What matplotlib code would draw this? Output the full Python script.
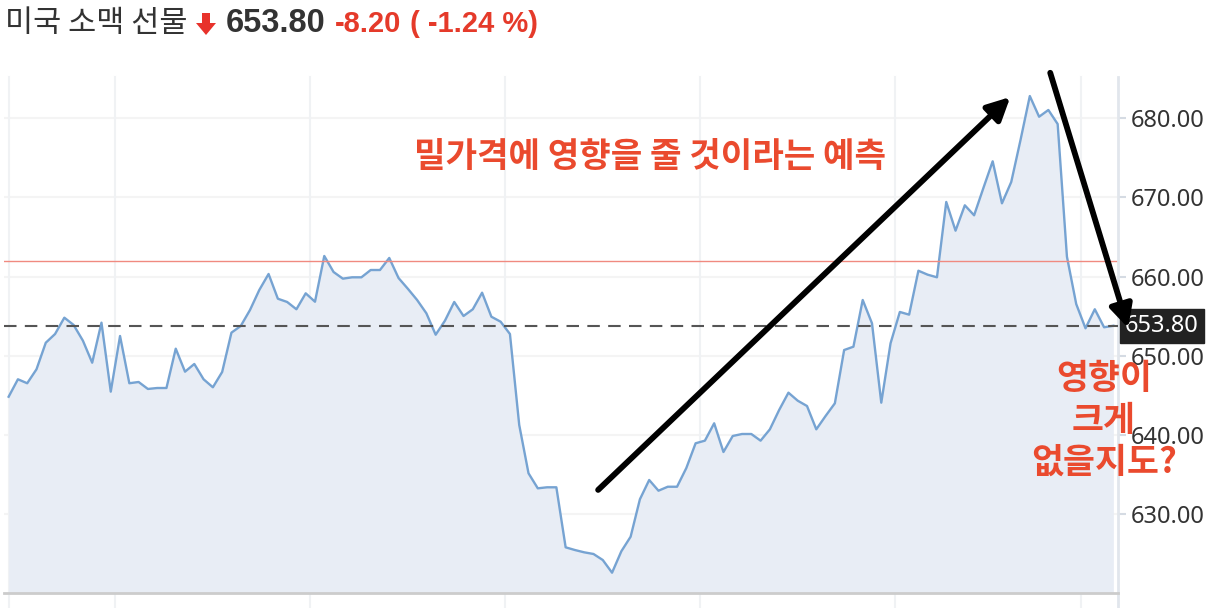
import numpy as np
import matplotlib
matplotlib.use("Agg")
from matplotlib import pyplot as plt
from matplotlib import transforms
from matplotlib.patches import Polygon

plt.rcParams['font.family'] = ['Noto Sans CJK KR', 'DejaVu Sans']

# wheat futures price
prices = [644.85, 647.05, 646.55, 648.31, 651.66, 652.76, 654.82, 653.90, 651.92, 649.14,
          654.19, 645.49, 652.51, 646.55, 646.71, 645.83, 645.95, 645.95, 650.91, 648.01,
          648.98, 647.05, 646.04, 647.97, 652.93, 653.77, 655.79, 658.31, 660.33, 657.21,
          656.80, 655.88, 657.89, 656.83, 662.60, 660.58, 659.74, 659.91, 659.91, 660.83,
          660.83, 662.35, 659.82, 658.47, 657.05, 655.37, 652.67, 654.44, 656.80, 655.03,
          655.88, 657.97, 654.94, 654.31, 652.76, 641.29, 635.20, 633.30, 633.43, 633.43,
          625.86, 625.52, 625.23, 625.02, 624.26, 622.66, 625.36, 627.20, 631.92, 634.35,
          633.00, 633.50, 633.50, 635.86, 638.98, 639.31, 641.50, 637.88, 639.90, 640.15,
          640.15, 639.31, 640.74, 643.18, 645.36, 644.35, 643.68, 640.74, 642.42, 644.02,
          650.74, 651.16, 657.05, 654.11, 644.10, 651.59, 655.54, 655.20, 660.74, 660.24,
          659.91, 669.41, 665.79, 668.99, 667.73, 671.17, 674.54, 669.24, 671.93, 677.23,
          682.77, 680.16, 681.01, 679.24, 662.51, 656.54, 653.48, 655.88, 653.61, 653.80]

last_price = 653.80
prev_close = 662.00
change = "-8.20"
change_pct = "( -1.24 %)"
y_ticks = [630, 640, 650, 660, 670, 680]
date_breaks = [0, 11.5, 32.5, 53.5, 74.5, 95.5, 115.5]

title_kr = "미국 소맥 선물"
note_up = "밀가격에 영향을 줄 것이라는 예측"
note_down = "영향이\n크게\n없을지도?"

RED = '#ea4a2e'
DARK = '#333333'

xs = np.arange(len(prices))
ymin, ymax = 620.1, 685.17

fig = plt.figure(figsize=(12.2, 6.08), dpi=100)
W, H = 1220, 608
ax = fig.add_axes([4 / W, (H - 593) / H, (1118 - 4) / W, (593 - 77) / H])

ax.set_xlim(-0.5, len(prices) - 0.5)
ax.set_ylim(ymin, ymax)

# grid
for t in y_ticks:
    ax.axhline(t, color='#f4f4f4', lw=1.5, zorder=0)
below = -15 / (593 - 77)
for d in date_breaks:
    ax.axvline(d, ymin=below, ymax=1, color='#f0f2f4', lw=1.5, zorder=0.5, clip_on=False)

ax.fill_between(xs, prices, ymin, color='#e8edf5', zorder=1, lw=0)
ax.plot(xs, prices, color='#76a3d2', lw=1.7, zorder=2)

ax.axhline(prev_close, color='#f08a80', lw=1, zorder=2)
ax.axhline(last_price, color='#555555', lw=1.5, dashes=(6, 4), zorder=3)

# spines / axis
for s in ['top', 'left', 'right']:
    ax.spines[s].set_visible(False)
ax.spines['bottom'].set_color('#cccccc')
ax.spines['bottom'].set_linewidth(2)
ax.axvline(len(prices) - 0.5, ymin=below, ymax=1, color='#e1e6ec', lw=2, clip_on=False)
ax.set_xticks([])
ax.yaxis.tick_right()
ax.set_yticks(y_ticks)
ax.set_yticklabels([f"{t:.2f}" for t in y_ticks], family=['Noto Sans', 'DejaVu Sans'])
ax.tick_params(axis='y', direction='out', length=6, width=1.5, color='#d5dbe3',
               labelsize=17, labelcolor=DARK, pad=3)

# last price box
trans = transforms.blended_transform_factory(ax.transAxes, ax.transData)
ax.text(1.0065, last_price, f"{last_price:.2f}", transform=trans, ha='left', va='center',
        color='white', fontsize=17, family=['Noto Sans', 'DejaVu Sans'], zorder=5,
        bbox=dict(boxstyle='square,pad=0.22', fc='#222222', ec='#222222'))

# title row
ty = (H - 24) / H
fig.text(5 / W, ty, title_kr, fontsize=22, color=DARK, va='center', ha='left')
down = [(202, 13), (210, 13), (210, 23), (216, 23), (206, 35), (196, 23), (202, 23)]
fig.patches.append(Polygon([(x, H - y) for x, y in down], closed=True, fc='#e8322b',
                           ec='none', transform=transforms.IdentityTransform(),
                           figure=fig))
fig.text(226 / W, ty, f"{last_price:.2f}", fontsize=23.5, color=DARK, va='center', ha='left',
         family='Liberation Sans', fontweight='bold')
fig.text(335 / W, ty, change, fontsize=21, color='#e53a2a', va='center', ha='left',
         family='Liberation Sans', fontweight='bold')
fig.text(410 / W, ty, change_pct, fontsize=21, color='#e53a2a', va='center', ha='left',
         family='Liberation Sans', fontweight='bold')

# annotations
ax.text(69.1, 675.1, note_up, color=RED, fontsize=24.7, fontweight='bold',
        ha='center', va='center', zorder=6)
ax.text(118.0, 641.9, note_down, color=RED, fontsize=25, fontweight='bold',
        ha='center', va='center', linespacing=1.25, zorder=6, clip_on=False)

arrow = dict(arrowstyle='-|>', lw=4.2, color='black', mutation_scale=34,
             shrinkA=0, shrinkB=0)
ax.annotate('', xy=(107.9, 682.65), xytext=(63.5, 633.1), arrowprops=arrow,
            annotation_clip=False, zorder=7)
ax.annotate('', xy=(120.6, 653.5), xytext=(112.2, 685.7), arrowprops=arrow,
            annotation_clip=False, zorder=7)

fig.savefig('out.png', dpi=100)
